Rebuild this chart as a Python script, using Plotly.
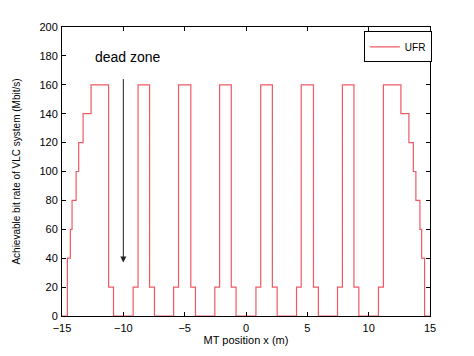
import plotly.graph_objects as go

# Step edges (m) and achievable bit rate (Mbit/s) on each interval
x_edges = [-15, -14.56, -14.32, -14.18, -13.85, -13.64, -13.28, -12.63, -11.2, -10.8,
           -9.2, -8.8, -7.86, -7.46, -5.9, -5.5, -4.5, -4.12, -2.54, -2.15, -1.2, -0.81,
           0.81, 1.2, 2.15, 2.54, 4.12, 4.5, 5.5, 5.9, 7.46, 7.86, 8.8, 9.2, 10.8, 11.2,
           12.63, 13.28, 13.64, 13.85, 14.18, 14.32, 14.56, 15]
ufr_rate = [0, 40, 60, 80, 100, 120, 140, 160, 20, 0,
            20, 160, 20, 0, 20, 160, 20, 0, 20, 160, 20, 0,
            20, 160, 20, 0, 20, 160, 20, 0, 20, 160, 20, 0, 20, 160,
            140, 120, 100, 80, 60, 40, 0]

x_ticks = [-15, -10, -5, 0, 5, 10, 15]
y_ticks = [0, 20, 40, 60, 80, 100, 120, 140, 160, 180, 200]

xs = x_edges
ys = ufr_rate + [ufr_rate[-1]]

fig = go.Figure()
fig.add_trace(go.Scatter(
    x=xs, y=ys, mode="lines", name="UFR", line_shape="hv",
    line=dict(color="rgb(238,90,100)", width=1.2),
))

font_family = "Liberation Sans, Arial, sans-serif"
axis_common = dict(
    showline=True, linecolor="black", linewidth=1, mirror="ticks",
    ticks="inside", ticklen=4, tickcolor="black", showgrid=False, zeroline=False,
    tickfont=dict(family=font_family, size=11, color="black"), automargin=False,
)
fig.update_xaxes(range=[-15, 15], tickvals=x_ticks,
                 ticktext=[("\u2212" + str(abs(v))) if v < 0 else str(v) for v in x_ticks],
                 ticklabelstandoff=2,
                 title=dict(text="MT position x (m)", font=dict(family=font_family, size=11, color="black"), standoff=1),
                 **axis_common)
fig.update_yaxes(range=[0, 200], tickvals=y_ticks, ticklabelstandoff=1,
                 title=dict(text="Achievable bit rate of VLC system (Mbit/s)", font=dict(family=font_family, size=10, color="black"), standoff=16),
                 **axis_common)

fig.add_annotation(x=-10, y=37, ax=-10, ay=165, xref="x", yref="y", axref="x", ayref="y",
                   showarrow=True, arrowhead=2, arrowsize=1.2, arrowwidth=1, arrowcolor="#222", text="")
fig.add_annotation(x=-9.6, y=179, xref="x", yref="y", text="dead zone", showarrow=False,
                   font=dict(family=font_family, size=14, color="black"))

# page body has an 8px default margin, so the figure is shifted by 8px
fig.update_layout(
    width=466, height=348,
    margin=dict(l=54, r=44, t=19, b=40, autoexpand=False),
    paper_bgcolor="white", plot_bgcolor="white",
    showlegend=True,
    legend=dict(x=1.005, y=0.985, xanchor="right", yanchor="top",
                bordercolor="black", borderwidth=1, bgcolor="white",
                font=dict(family=font_family, size=10, color="black"),
                itemwidth=30, tracegroupgap=0, tracegroupgap_=None) if False else
           dict(x=1.005, y=0.985, xanchor="right", yanchor="top",
                bordercolor="black", borderwidth=1, bgcolor="white",
                font=dict(family=font_family, size=10, color="black"),
                itemwidth=30, tracegroupgap=0),
)
fig.write_html("out.html")
